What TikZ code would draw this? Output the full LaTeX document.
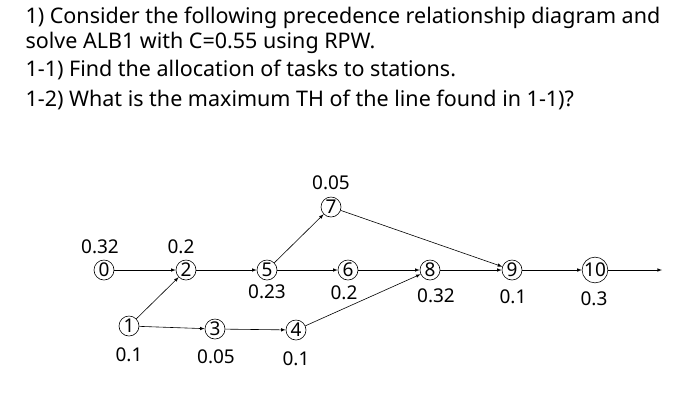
\documentclass[tikz,border=0pt]{standalone}
\usepackage{fontspec}
\setmainfont{Noto Sans}
\begin{document}
\begin{tikzpicture}[x=1pt,y=-1pt,
  st/.style={circle,draw,semithick,inner sep=0pt,minimum size=20pt,font=\fontsize{19}{19}\selectfont},
  lb/.style={font=\fontsize{19}{19}\selectfont},
  ar/.style={-latex,semithick},
  q/.style={anchor=west,font=\fontsize{21.5}{22}\selectfont}]
\useasboundingbox (0,0) rectangle (700,416);
\node[q] (t1) at (22,18) {1) Consider the following precedence relationship diagram and};
\node[q] (t2) at (22,43) {solve ALB1 with C=0.55 using RPW.};
\node[q] (t3) at (22,70) {1-1) Find the allocation of tasks to stations.};
\node[q] (t4) at (22,100) {1-2) What is the maximum TH of the line found in 1-1)?};
\node[st] (n0) at (104,270) {0};
\node[st] (n2) at (186,270) {2};
\node[st] (n5) at (267,270) {5};
\node[st] (n7) at (331,207) {7};
\node[st] (n6) at (348,270) {6};
\node[st] (n8) at (430,270) {8};
\node[st] (n9) at (512,270) {9};
\node[st] (n10) at (595,270) {10};
\node[st] (n1) at (129,326) {1};
\node[st] (n3) at (215,329) {3};
\node[st] (n4) at (296,330) {4};
\coordinate (end) at (662,270);
\node[lb] (l0) at (100,247) {0.32};
\node[lb] (l2) at (181,247) {0.2};
\node[lb] (l7) at (331,183) {0.05};
\node[lb] (l5) at (267,292) {0.23};
\node[lb] (l6) at (344,293) {0.2};
\node[lb] (l8) at (436,296) {0.32};
\node[lb] (l9) at (513,297) {0.1};
\node[lb] (l10) at (594,299) {0.3};
\node[lb] (l1) at (129,355) {0.1};
\node[lb] (l3) at (216,357) {0.05};
\node[lb] (l4) at (296,359) {0.1};
\draw[ar] (n0) -- (n2);
\draw[ar] (n1) -- (n2);
\draw[ar] (n2) -- (n5);
\draw[ar] (n5) -- (n7);
\draw[ar] (n5) -- (n6);
\draw[ar] (n6) -- (n8);
\draw[ar] (n7) -- (n9);
\draw[ar] (n8) -- (n9);
\draw[ar] (n9) -- (n10);
\draw[ar] (n10) -- (end);
\draw[ar] (n1) -- (n3);
\draw[ar] (n3) -- (n4);
\draw[ar] (n4) -- (n8);
\end{tikzpicture}
\end{document}
